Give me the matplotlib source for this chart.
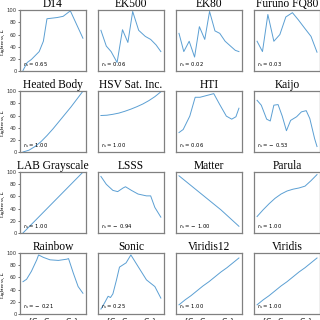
import matplotlib
matplotlib.use('Agg')
import matplotlib.pyplot as plt

# colormap names, lightness profiles (x as fraction of colour index) and Spearman r_s
names = ['D14', 'EK500', 'EK80', 'Furuno FQ80',
         'Heated Body', 'HSV Sat. Inc.', 'HTI', 'Kaijo',
         'LAB Grayscale', 'LSSS', 'Matter', 'Parula',
         'Rainbow', 'Sonic', 'Viridis12', 'Viridis']

rs_labels = ['0.65', '0.06', '0.02', '0.03',
             '1.00', '1.00', '0.06', '-0.53',
             '1.00', '-0.94', '-1.00', '1.00',
             '-0.21', '0.25', '1.00', '1.00']

d14_x = [0, 0.07, 0.14, 0.27, 0.34, 0.40, 0.57, 0.67, 0.79, 1.0]
d14_y = [1, 14, 19, 32, 49, 86, 88, 90, 99, 54]

ek500_x = [0, 0.09, 0.17, 0.27, 0.36, 0.45, 0.53, 0.63, 0.74, 0.83, 0.92, 1.0]
ek500_y = [67, 41, 32, 14, 68, 47, 98, 67, 57, 52, 43, 32]

ek80_x = [0, 0.08, 0.17, 0.26, 0.34, 0.43, 0.51, 0.60, 0.68, 0.77, 0.86, 0.94, 1.0]
ek80_y = [62, 32, 49, 23, 73, 52, 98, 66, 62, 49, 41, 34, 32]

furuno_x = [0, 0.09, 0.18, 0.28, 0.38, 0.48, 0.59, 0.69, 0.79, 0.90, 1.0]
furuno_y = [49, 32, 93, 49, 60, 89, 96, 84, 71, 57, 31]

heated_x = [0, 0.1, 0.2, 0.3, 0.4, 0.5, 0.6, 0.7, 0.8, 0.9, 1.0]
heated_y = [0, 3, 9, 17, 27, 38, 50, 62, 74, 87, 100]

hsv_x = [0, 0.1, 0.2, 0.3, 0.4, 0.5, 0.6, 0.7, 0.8, 0.9, 1.0]
hsv_y = [60, 60.5, 62, 64, 67, 70.5, 74.5, 79, 84.5, 91, 99]

hti_x = [0, 0.07, 0.18, 0.27, 0.35, 0.58, 0.68, 0.79, 0.88, 0.95, 1.0]
hti_y = [32, 37, 59, 90, 90, 96, 78, 59, 54, 58, 72]

kaijo_x = [0, 0.07, 0.16, 0.22, 0.28, 0.35, 0.42, 0.49, 0.56, 0.66, 0.74, 0.82, 0.88, 0.96, 1.0]
kaijo_y = [85, 77, 54, 51, 77, 78, 59, 35, 52, 58, 66, 68, 55, 22, 9]

lab_x = [0, 0.1, 0.2, 0.3, 0.4, 0.5, 0.6, 0.7, 0.8, 0.9, 1.0]
lab_y = [0, 10, 20, 30, 40, 50, 60, 70, 80, 90, 100]

lsss_x = [0, 0.09, 0.20, 0.28, 0.37, 0.41, 0.51, 0.62, 0.76, 0.83, 0.90, 1.0]
lsss_y = [93, 80, 70, 68, 74, 76, 70, 64, 61, 61, 42, 26]

matter_x = [0, 0.1, 0.2, 0.3, 0.4, 0.5, 0.6, 0.7, 0.8, 0.9, 1.0]
matter_y = [94, 86, 78, 70, 62, 54, 46, 38, 29, 20, 11]

parula_x = [0, 0.1, 0.2, 0.3, 0.4, 0.5, 0.6, 0.7, 0.8, 0.9, 1.0]
parula_y = [27, 38, 48, 57, 64, 69, 72, 74, 77, 86, 96]

rainbow_x = [0, 0.06, 0.14, 0.23, 0.26, 0.34, 0.45, 0.59, 0.73, 0.76, 0.84, 0.92, 1.0]
rainbow_y = [53, 57, 70, 89, 97, 93, 89, 88, 90, 91, 67, 45, 34]

sonic_x = [0, 0.06, 0.12, 0.16, 0.20, 0.26, 0.31, 0.42, 0.50, 0.62, 0.76, 0.90, 1.0]
sonic_y = [8, 18, 29, 27, 33, 56, 77, 84, 97, 78, 56, 45, 26]

viridis12_x = [0, 0.1, 0.2, 0.3, 0.4, 0.5, 0.6, 0.7, 0.8, 0.9, 1.0]
viridis12_y = [15, 23, 30, 38, 46, 53, 61, 69, 76, 84, 92]

viridis_x = [0, 0.1, 0.2, 0.3, 0.4, 0.5, 0.6, 0.7, 0.8, 0.9, 1.0]
viridis_y = [15, 23, 30, 38, 46, 53, 61, 69, 76, 84, 92]

xs = [d14_x, ek500_x, ek80_x, furuno_x, heated_x, hsv_x, hti_x, kaijo_x,
      lab_x, lsss_x, matter_x, parula_x, rainbow_x, sonic_x, viridis12_x, viridis_x]
ys = [d14_y, ek500_y, ek80_y, furuno_y, heated_y, hsv_y, hti_y, kaijo_y,
      lab_y, lsss_y, matter_y, parula_y, rainbow_y, sonic_y, viridis12_y, viridis_y]

fig = plt.figure(figsize=(3.2, 3.2), dpi=100)

lefts = [0.0625, 0.306, 0.55, 0.794]
bottoms = [0.778, 0.525, 0.272, 0.019]
w, h = 0.206, 0.19

for i in range(16):
    r, c = divmod(i, 4)
    ax = fig.add_axes([lefts[c], bottoms[r], w, h])
    ax.plot(xs[i], ys[i], color='#5b9fd3', lw=0.7)
    ax.set_ylim(0, 100)
    ax.set_xlim(-0.05, 1.05)
    ax.set_xticks([])
    ax.set_title(names[i], family='Liberation Serif', fontsize=8.3, pad=1)
    ax.text(0.04, 0.04, r'$r_s$ = ' + rs_labels[i].replace('-', '\u2212 '),
            transform=ax.transAxes, fontsize=3.8, ha='left', va='bottom')
    for s in ax.spines.values():
        s.set_color('#808080')
        s.set_linewidth(0.9)
    if c == 0:
        ax.set_yticks([0, 20, 40, 60, 80, 100])
        ax.tick_params(axis='y', labelsize=3.8, length=1.5, width=0.5, pad=1,
                       colors='#333333')
        ax.set_ylabel('Lightness, $L^*$', fontsize=3.8, family='Liberation Serif')
        ax.yaxis.set_label_coords(-0.2, 0.5)
    else:
        ax.set_yticks([])
    if r == 3:
        ax.set_xlabel(r'$\{C_1, C_2, \ldots, C_n\}$', fontsize=5, labelpad=2)

fig.savefig('out.png', dpi=100)
